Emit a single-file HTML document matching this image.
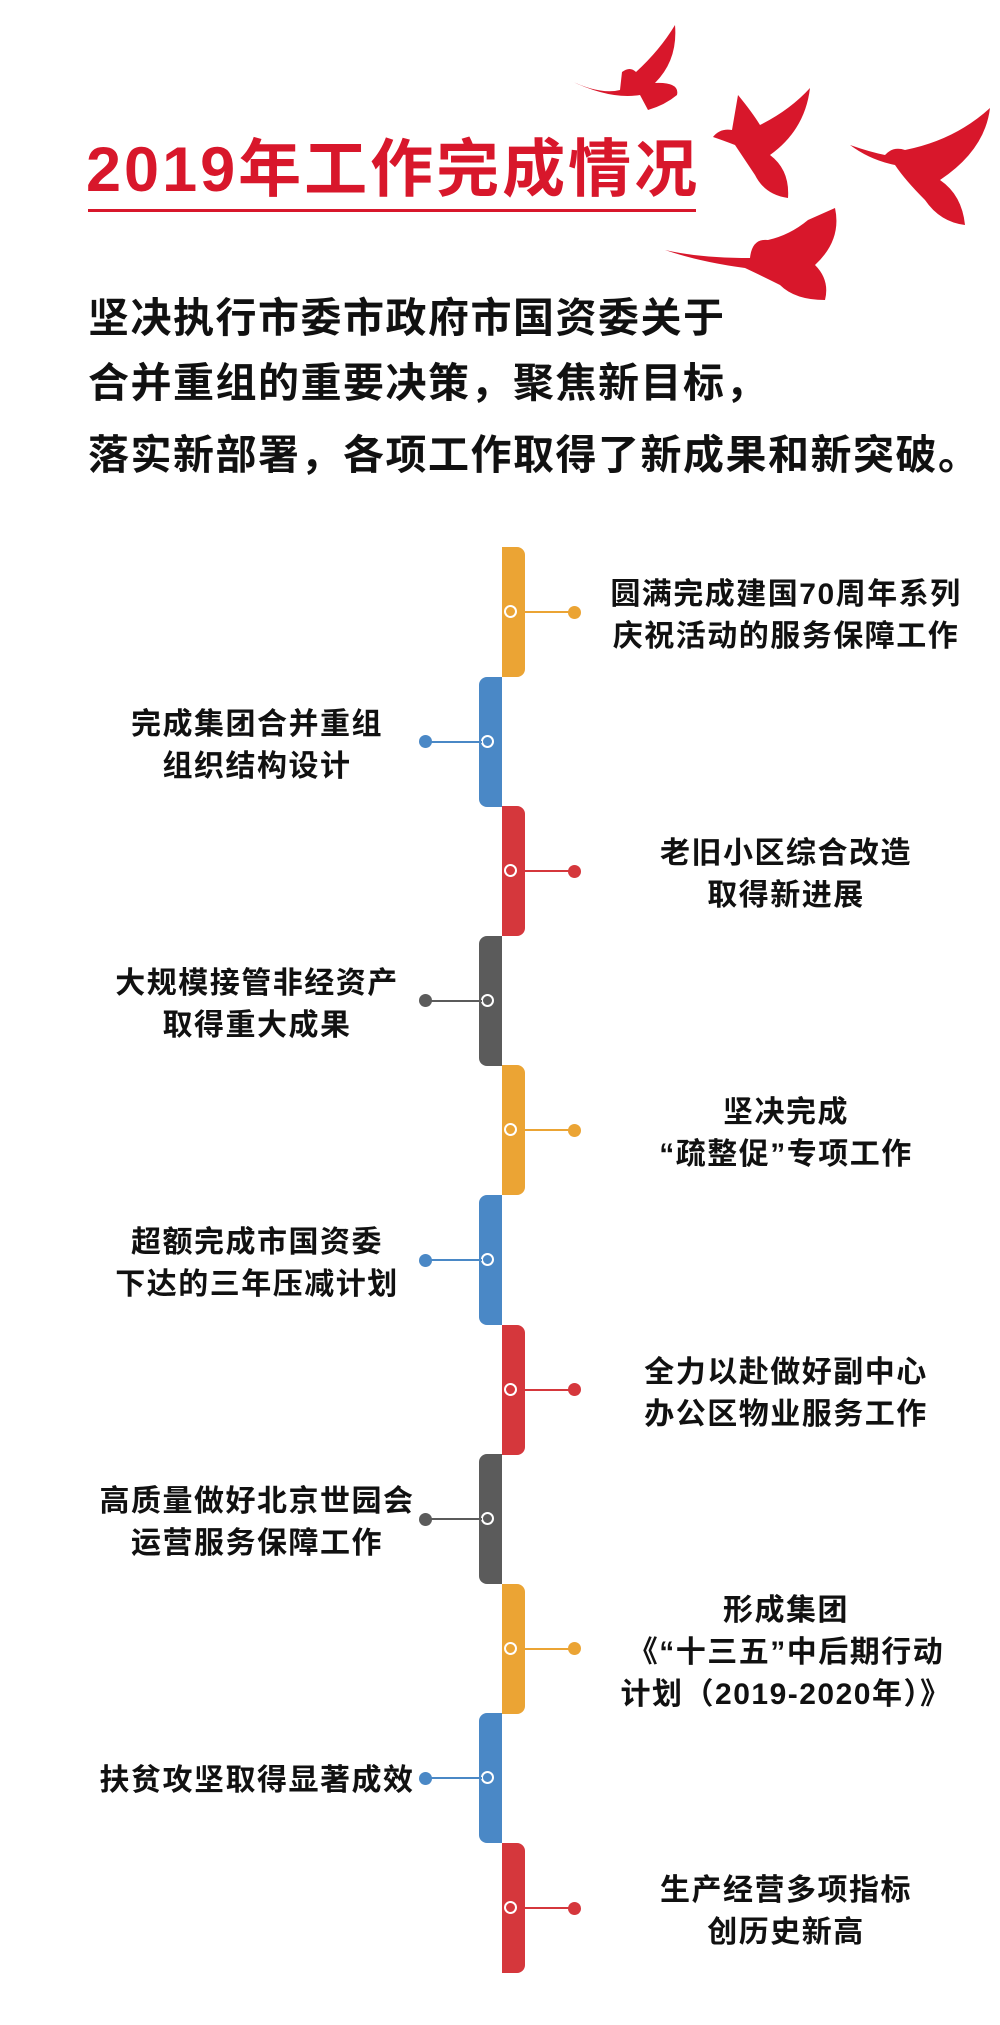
<!DOCTYPE html>
<html><head><meta charset="utf-8"><style>
body{margin:0;width:1000px;height:2025px;background:#fff;position:relative;overflow:hidden;font-family:"Liberation Sans","Noto Sans CJK SC",sans-serif;}
.t{position:absolute;white-space:nowrap;}
.title{left:86px;top:134px;font-size:63px;font-weight:bold;color:#d8172b;line-height:72px;letter-spacing:3px;}
.ul{position:absolute;left:88px;top:209px;width:608px;height:3px;background:#d8172b;}
.p{left:88px;font-size:41px;font-weight:bold;color:#111;line-height:48px;letter-spacing:1.5px;}
.seg{position:absolute;width:23px;height:130px;}
.R{left:502px;border-radius:0 8px 8px 0;}
.L{left:479px;border-radius:8px 0 0 8px;}
.ring{position:absolute;width:9px;height:9px;border:2.5px solid #fff;border-radius:50%;}
.ln{position:absolute;height:2px;width:56px;}
.dot{position:absolute;width:13px;height:13px;border-radius:50%;}
.lab{position:absolute;width:440px;text-align:center;font-size:30px;font-weight:bold;color:#111;line-height:42px;letter-spacing:1.5px;white-space:nowrap;}
.o{background:#eba434}.b{background:#4a88c6}.r{background:#d5373c}.g{background:#5b5b5b}
</style></head><body>
<svg style="position:absolute;left:0;top:0" width="1000" height="320">
<g fill="#d8172b">
<path d="M569,80 Q600,95 620,90 L622,72 Q630,66 636,72 Q660,50 675,25 Q678,60 655,83 Q680,82 677,95 Q665,105 648,110 L640,95 Q610,100 569,80Z"/>
<path d="M713,137 Q720,128 732,130 L738,95 Q752,112 760,125 Q790,110 810,88 Q805,130 770,155 Q790,170 788,198 Q765,195 755,175 Q745,160 735,145 Q722,140 713,137Z"/>
<path d="M850,145 Q870,152 885,155 Q893,146 905,150 Q955,140 990,108 Q985,150 940,180 Q962,195 965,225 Q940,222 925,200 Q905,180 895,165 Q870,160 850,145Z"/>
<path d="M665,250 Q700,258 750,258 Q752,238 768,240 Q790,235 808,220 L835,208 Q842,240 815,265 Q830,280 825,300 Q795,300 780,285 Q760,275 745,268 Q700,262 665,250Z"/>
</g></svg>
<div class="t title">2019年工作完成情况</div>
<div class="ul"></div>
<div class="t p" style="top:294px">坚决执行市委市政府市国资委关于</div>
<div class="t p" style="top:359px">合并重组的重要决策，聚焦新目标，</div>
<div class="t p" style="top:431px">落实新部署，各项工作取得了新成果和新突破。</div>

<div class="seg R o" style="top:547px"></div>
<div class="ring" style="left:504px;top:605px"></div>
<div class="ln o" style="left:518px;top:611px"></div>
<div class="dot o" style="left:568px;top:605.5px"></div>
<div class="lab" style="left:566px;top:574px">圆满完成建国70周年系列<br>庆祝活动的服务保障工作</div>

<div class="seg L b" style="top:676.6px"></div>
<div class="ring" style="left:481px;top:734.6px"></div>
<div class="ln b" style="left:426px;top:740.6px"></div>
<div class="dot b" style="left:419px;top:735.1px"></div>
<div class="lab" style="left:37px;top:703.6px">完成集团合并重组<br>组织结构设计</div>

<div class="seg R r" style="top:806.2px"></div>
<div class="ring" style="left:504px;top:864.2px"></div>
<div class="ln r" style="left:518px;top:870.2px"></div>
<div class="dot r" style="left:568px;top:864.7px"></div>
<div class="lab" style="left:566px;top:833.2px">老旧小区综合改造<br>取得新进展</div>

<div class="seg L g" style="top:935.8px"></div>
<div class="ring" style="left:481px;top:993.8px"></div>
<div class="ln g" style="left:426px;top:999.8px"></div>
<div class="dot g" style="left:419px;top:994.3px"></div>
<div class="lab" style="left:37px;top:962.8px">大规模接管非经资产<br>取得重大成果</div>

<div class="seg R o" style="top:1065.4px"></div>
<div class="ring" style="left:504px;top:1123.4px"></div>
<div class="ln o" style="left:518px;top:1129.4px"></div>
<div class="dot o" style="left:568px;top:1123.9px"></div>
<div class="lab" style="left:566px;top:1092.4px">坚决完成<br>“疏整促”专项工作</div>

<div class="seg L b" style="top:1195px"></div>
<div class="ring" style="left:481px;top:1253px"></div>
<div class="ln b" style="left:426px;top:1259px"></div>
<div class="dot b" style="left:419px;top:1253.5px"></div>
<div class="lab" style="left:37px;top:1222px">超额完成市国资委<br>下达的三年压减计划</div>

<div class="seg R r" style="top:1324.6px"></div>
<div class="ring" style="left:504px;top:1382.6px"></div>
<div class="ln r" style="left:518px;top:1388.6px"></div>
<div class="dot r" style="left:568px;top:1383.1px"></div>
<div class="lab" style="left:566px;top:1351.6px">全力以赴做好副中心<br>办公区物业服务工作</div>

<div class="seg L g" style="top:1454.2px"></div>
<div class="ring" style="left:481px;top:1512.2px"></div>
<div class="ln g" style="left:426px;top:1518.2px"></div>
<div class="dot g" style="left:419px;top:1512.7px"></div>
<div class="lab" style="left:37px;top:1481.2px">高质量做好北京世园会<br>运营服务保障工作</div>

<div class="seg R o" style="top:1583.8px"></div>
<div class="ring" style="left:504px;top:1641.8px"></div>
<div class="ln o" style="left:518px;top:1647.8px"></div>
<div class="dot o" style="left:568px;top:1642.3px"></div>
<div class="lab" style="left:566px;top:1589.8px">形成集团<br>《“十三五”中后期行动<br>计划（2019-2020年）》</div>

<div class="seg L b" style="top:1713.4px"></div>
<div class="ring" style="left:481px;top:1771.4px"></div>
<div class="ln b" style="left:426px;top:1777.4px"></div>
<div class="dot b" style="left:419px;top:1771.9px"></div>
<div class="lab" style="left:37px;top:1760.4px">扶贫攻坚取得显著成效</div>

<div class="seg R r" style="top:1843px"></div>
<div class="ring" style="left:504px;top:1901px"></div>
<div class="ln r" style="left:518px;top:1907px"></div>
<div class="dot r" style="left:568px;top:1901.5px"></div>
<div class="lab" style="left:566px;top:1870px">生产经营多项指标<br>创历史新高</div>
</body></html>
